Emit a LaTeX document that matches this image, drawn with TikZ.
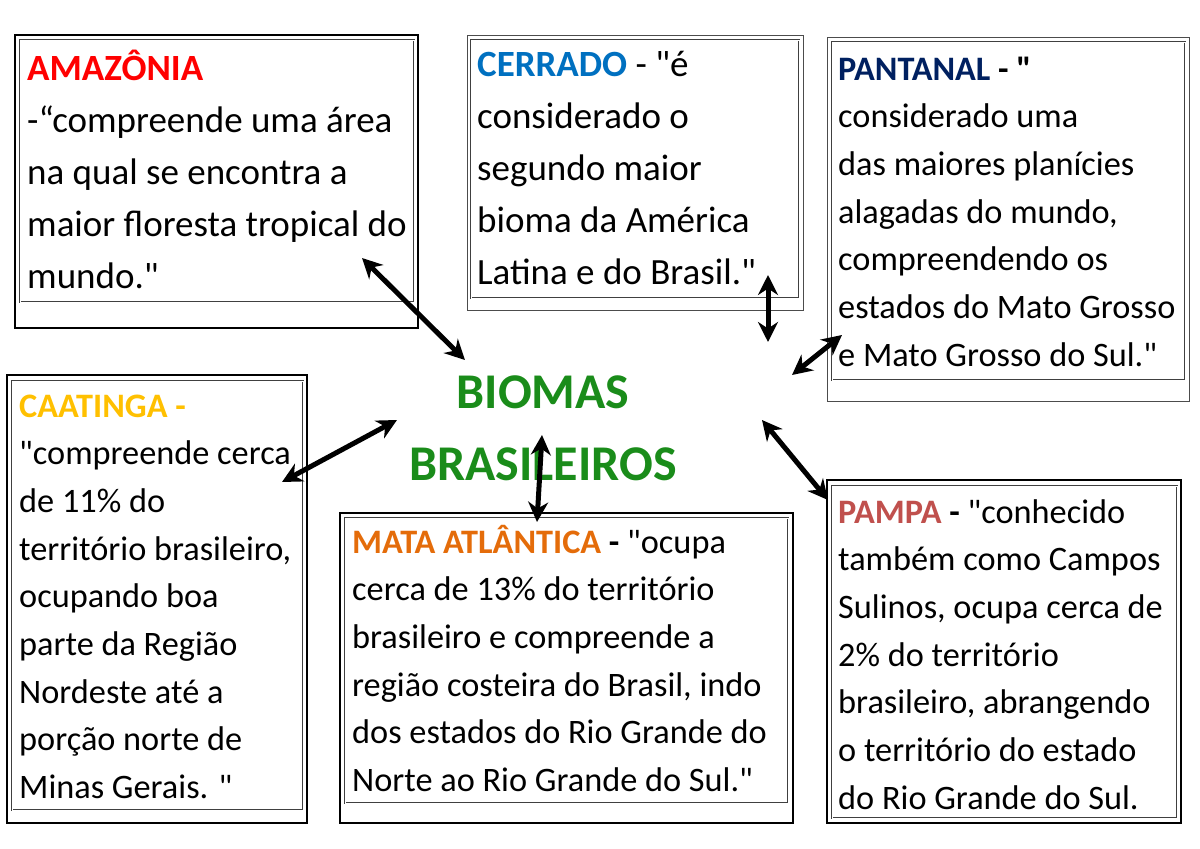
\documentclass[tikz,border=0pt]{standalone}
\usepackage{fontspec}
\setmainfont{Carlito}[Ligatures=TeXOff]
\usetikzlibrary{arrows.meta}

\definecolor{amzred}{RGB}{255,0,0}
\definecolor{cerblue}{RGB}{0,112,192}
\definecolor{pandark}{RGB}{0,32,96}
\definecolor{caayellow}{RGB}{255,192,0}
\definecolor{mataorange}{RGB}{228,108,10}
\definecolor{pampared}{RGB}{192,80,77}
\definecolor{titlegreen}{RGB}{26,140,26}

\tikzset{
  outerbox/.style={draw=black, line width=2.5pt},
  thinouter/.style={draw=black!70, line width=1pt},
  innerbox/.style={draw=black!75, double, double distance=1pt, line width=0.5pt},
  biotext/.style={anchor=base west, inner sep=0pt, text width=600pt, align=flush left,
    font=\fontsize{34.3}{47.7}\selectfont},
  titletext/.style={anchor=base, inner sep=0pt, text width=400pt, align=center,
    text=titlegreen, font=\fontsize{50}{72}\selectfont\bfseries},
  link/.style={line width=5pt, {Stealth[length=20pt,width=20pt]}-{Stealth[length=20pt,width=20pt]}},
}

\begin{document}
\begin{tikzpicture}[x=1pt, y=-1pt]
\useasboundingbox (0,0) rectangle (1200,849);

% frames of the six boxes
\draw[outerbox] (15,35) rectangle (418,328);
\draw[innerbox] (20,40) rectangle (414,302);
\draw[thinouter] (467,35) rectangle (803,310);
\draw[innerbox] (471,40) rectangle (799,298);
\draw[thinouter] (827,37) rectangle (1189,401);
\draw[innerbox] (832,42) rectangle (1185,380);
\draw[outerbox] (7,375) rectangle (307,823);
\draw[innerbox] (12,381) rectangle (303,810);
\draw[outerbox, line width=2pt] (340,513) rectangle (793,823);
\draw[innerbox] (345,518) rectangle (788,803);
\draw[outerbox, line width=2pt] (827,480) rectangle (1181,823);
\draw[innerbox] (832,486) rectangle (1177,818);

% texts
\node[titletext] (biomas) at (543,408) {BIOMAS\\BRASILEIROS};
\node[biotext, font=\fontsize{37}{52}\selectfont] (amazonia) at (27,80)
  {{\bfseries\color{amzred}AMAZÔNIA}\\
   -“compreende uma área\\
   na qual se encontra a\\
   maior floresta tropical do\\
   mundo."};
\node[biotext, font=\fontsize{37}{52}\selectfont] (cerrado) at (477,76)
  {{\bfseries\color{cerblue}CERRADO} - "é\\
   considerado o\\
   segundo maior\\
   bioma da América\\
   Latina e do Brasil."};
\node[biotext] (pantanal) at (838,80)
  {{\bfseries{\color{pandark}PANTANAL} - "}\\
   considerado uma\\
   das maiores planícies\\
   alagadas do mundo,\\
   compreendendo os\\
   estados do Mato Grosso\\
   e Mato Grosso do Sul."};
\node[biotext] (caatinga) at (19,417)
  {{\bfseries\color{caayellow}CAATINGA -}\\
   "compreende cerca\\
   de 11\% do\\
   território brasileiro,\\
   ocupando boa\\
   parte da Região\\
   Nordeste até a\\
   porção norte de\\
   Minas Gerais. "};
\node[biotext] (mata) at (352,553)
  {{\bfseries{\color{mataorange}MATA ATLÂNTICA} -} "ocupa\\
   cerca de 13\% do território\\
   brasileiro e compreende a\\
   região costeira do Brasil, indo\\
   dos estados do Rio Grande do\\
   Norte ao Rio Grande do Sul."};
\node[biotext] (pampa) at (838,523)
  {{\bfseries{\color{pampared}PAMPA} -} "conhecido\\
   também como Campos\\
   Sulinos, ocupa cerca de\\
   2\% do território\\
   brasileiro, abrangendo\\
   o território do estado\\
   do Rio Grande do Sul.};

% arrow ends
\coordinate (amz-end) at (362,258);
\coordinate (amz-hub) at (465,360);
\coordinate (cer-end) at (768,275);
\coordinate (cer-hub) at (768,342);
\coordinate (pan-end) at (842,335);
\coordinate (pan-hub) at (792,375);
\coordinate (caa-end) at (282,482);
\coordinate (caa-hub) at (397,420);
\coordinate (mat-end) at (537,522);
\coordinate (mat-hub) at (542,435);
\coordinate (pam-end) at (828,500);
\coordinate (pam-hub) at (762,420);

\draw[link] (amz-end) -- (amz-hub);
\draw[link] (cer-end) -- (cer-hub);
\draw[link] (pan-end) -- (pan-hub);
\draw[link] (caa-end) -- (caa-hub);
\draw[link] (mat-end) -- (mat-hub);
\draw[link] (pam-end) -- (pam-hub);
\end{tikzpicture}
\end{document}
